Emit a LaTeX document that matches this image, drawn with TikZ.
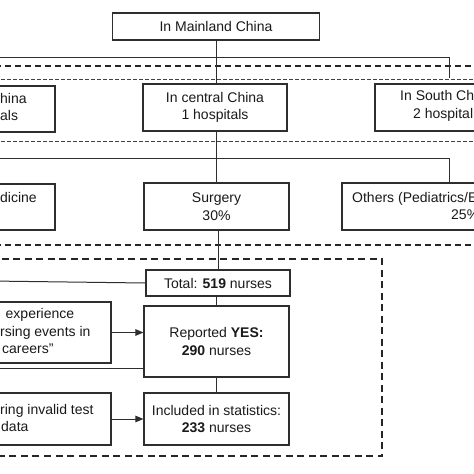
\documentclass[tikz,border=0pt]{standalone}
\usepackage{fontspec}
\setmainfont{Liberation Sans}
\usetikzlibrary{arrows.meta}
\definecolor{linec}{HTML}{2E2E2E}
\definecolor{textc}{HTML}{1A1A1A}
\begin{document}
\begin{tikzpicture}[x=1pt,y=-1pt,
  box/.style={draw=linec, fill=white, line width=1.1pt, inner sep=0pt, align=center,
    font=\fontsize{14}{17.5}\selectfont, text=textc},
  txt/.style={inner sep=0pt, align=left, font=\fontsize{14}{17.5}\selectfont, text=textc},
  conn/.style={draw=linec, line width=1pt},
  arr/.style={conn, -{Triangle[length=8pt,width=6.5pt]}},
  thickdash/.style={draw=black!85, line width=1.5pt, dash pattern=on 6pt off 4pt},
  thindash/.style={draw=black!75, line width=1pt, dash pattern=on 3.5pt off 2.5pt},
  framedash/.style={draw=black!85, line width=1.6pt, dash pattern=on 7pt off 4.5pt},
]
\useasboundingbox (0,0) rectangle (474,474);
\clip (0,0) rectangle (474,474);

% dashed separators and frame
\coordinate (d1L) at (-5,66);  \coordinate (d1R) at (480,66);
\coordinate (d2L) at (-5,79);  \coordinate (d2R) at (480,79);
\coordinate (d3L) at (-5,141); \coordinate (d3R) at (480,141);
\coordinate (d4L) at (-5,245); \coordinate (d4R) at (480,245);
\draw[thickdash] (d1L) -- (d1R);
\draw[thindash] (d2L) -- (d2R);
\draw[thindash] (d3L) -- (d3R);
\draw[thickdash] (d4L) -- (d4R);
\coordinate (fTL) at (-10,259); \coordinate (fTR) at (382,259);
\coordinate (fBR) at (382,456); \coordinate (fBL) at (-10,456);
\draw[framedash] (fTL) -- (fTR) -- (fBR) -- (fBL);

% boxes
\node[box, minimum width=207pt, minimum height=27pt] (main) at (216,26.5) {In Mainland China};
\node[box, minimum width=144pt, minimum height=46pt] (north) at (-17,109) {};
\node[box, minimum width=144pt, minimum height=47pt] (central) at (215,107.5) {In central China\\1 hospitals};
\node[box, minimum width=144pt, minimum height=47pt] (south) at (447,107.5) {};
\node[box, minimum width=144pt, minimum height=46pt] (med) at (-17,207) {};
\node[box, minimum width=145pt, minimum height=47pt] (surg) at (216.5,206.5) {Surgery\\30\%};
\node[box, minimum width=236pt, minimum height=47pt] (others) at (460,206.5) {};
\node[box, minimum width=144pt, minimum height=26pt] (total) at (218,283) {Total: \textbf{519} nurses};
\node[box, minimum width=145pt, minimum height=71pt] (rep) at (216.5,341.5) {Reported \textbf{YES:}\\\textbf{290} nurses};
\node[box, minimum width=145pt, minimum height=52pt] (incl) at (216.5,419) {Included in statistics:\\\textbf{233} nurses};
\node[box, minimum width=197pt, minimum height=61pt] (b1) at (12.5,332.5) {};
\node[box, minimum width=197pt, minimum height=52pt] (b2) at (12.5,419) {};

% visible (cut) texts
\node[txt, anchor=west] (northT) at (0,107) {hina\\als};
\node[txt, anchor=west] (southT) at (400,106) {In South Ch\\\hspace*{13pt}2 hospital};
\node[txt, anchor=west] (medT) at (0,197) {dicine};
\node[txt, anchor=west] (othersT) at (352,206) {Others (Pediatrics/E\\\hspace*{99pt}25\%};
\node[txt, anchor=west] (b1T) at (0,331) {\hspace*{5.5pt}experience\\rsing events in\\\hspace*{2pt}careers”};
\node[txt, anchor=west] (b2T) at (0,418) {ring invalid test\\\hspace*{1pt}data};

% connectors
\coordinate (bus1L) at (-10,57); \coordinate (bus1R) at (449,57);
\coordinate (southTop) at (449,78);
\draw[conn] (main.south) -- (main.south |- central.north);
\draw[conn] (bus1L) -- (bus1R) -- (southTop);
\coordinate (bus2L) at (-10,158); \coordinate (bus2R) at (449,158);
\draw[conn] (central.south -| main.south) -- (surg.north -| main.south);
\draw[conn] (bus2L) -- (bus2R) -- (bus2R |- others.north);
\draw[conn] (surg.south -| total.north) -- (total.north);
\coordinate (totL) at (-10,281);
\draw[conn] (total.west) -- (totL);
\draw[conn] (total.south -| main.south) -- (rep.north -| main.south);
\draw[arr] (b1.east) -- (b1.east -| rep.west);
\coordinate (repL) at (-10,368);
\draw[conn] (rep.west |- repL) -- (repL);
\draw[conn] (rep.south -| main.south) -- (incl.north -| main.south);
\draw[arr] (b2.east) -- (b2.east -| incl.west);
\end{tikzpicture}
\end{document}
